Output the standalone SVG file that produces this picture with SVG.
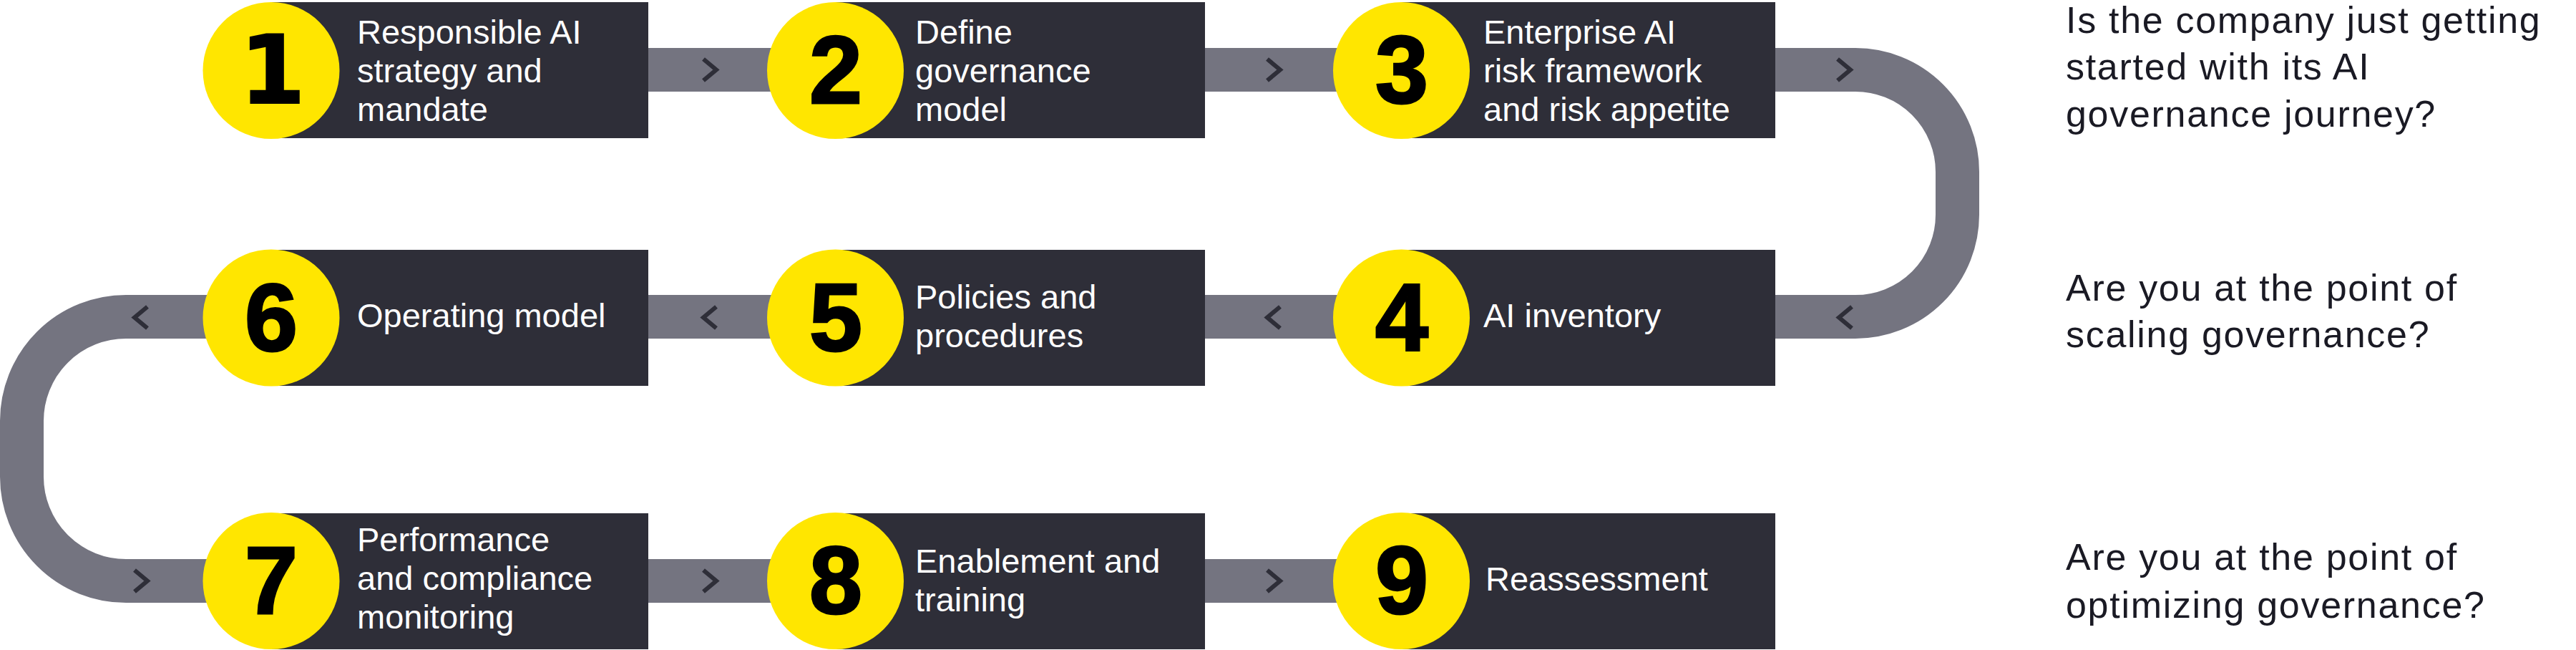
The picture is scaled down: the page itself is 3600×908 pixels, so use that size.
<svg xmlns="http://www.w3.org/2000/svg" width="3600" height="908" viewBox="0 0 3600 908">
<style>
.box{fill:#2e2e38}
.dot{fill:#ffe600}
.num{font-family:"Liberation Sans",Arial,sans-serif;font-weight:700;font-size:133px;fill:#000;stroke:#000;stroke-width:3;text-anchor:middle}
.one{font-family:"DejaVu Sans","Liberation Sans",sans-serif;font-size:132px;stroke-width:2}
.lbl{font-family:"Liberation Sans",Arial,sans-serif;font-size:47px;fill:#ffffff}
.q{font-family:"Liberation Sans",Arial,sans-serif;font-size:52px;fill:#1a1a24;letter-spacing:1.7px}
.band{fill:none;stroke:#747480;stroke-width:61}
.chev{fill:none;stroke:#2e2e38;stroke-width:6;stroke-linejoin:miter}
</style>
<rect width="3600" height="908" fill="#ffffff"/>
<g id="connectors">
<path class="band" d="M 378 97.5 H 2593 A 142.5 142.5 0 0 1 2735.5 240 V 300 A 142.5 142.5 0 0 1 2593 442.5 H 176 A 145.5 145.5 0 0 0 30.5 588 V 666 A 145.5 145.5 0 0 0 176 811.5 H 1958"/>
<polyline class="chev" points="983,82.5 1001,97.5 983,112.5"/>
<polyline class="chev" points="1771,82.5 1789,97.5 1771,112.5"/>
<polyline class="chev" points="2568,82.5 2586,97.5 2568,112.5"/>
<polyline class="chev" points="2588,428.5 2570,443.5 2588,458.5"/>
<polyline class="chev" points="1789,428.5 1771,443.5 1789,458.5"/>
<polyline class="chev" points="1001,428.5 983,443.5 1001,458.5"/>
<polyline class="chev" points="206,428.5 188,443.5 206,458.5"/>
<polyline class="chev" points="188,796.5 206,811.5 188,826.5"/>
<polyline class="chev" points="983,796.5 1001,811.5 983,826.5"/>
<polyline class="chev" points="1771,796.5 1789,811.5 1771,826.5"/>
</g>
<g id="node1">
<rect class="box" x="378" y="3" width="528" height="190"/>
<circle class="dot" cx="379" cy="98.5" r="95.5"/>
<text class="num one" x="381" y="144">1</text>
<text class="lbl" x="499" y="61">Responsible AI</text>
<text class="lbl" x="499" y="115">strategy and</text>
<text class="lbl" x="499" y="169">mandate</text>
</g>
<g id="node2">
<rect class="box" x="1168" y="3" width="516" height="190"/>
<circle class="dot" cx="1167.5" cy="98.5" r="95.5"/>
<text class="num" x="1168" y="144">2</text>
<text class="lbl" x="1279" y="61">Define</text>
<text class="lbl" x="1279" y="115">governance</text>
<text class="lbl" x="1279" y="169">model</text>
</g>
<g id="node3">
<rect class="box" x="1958" y="3" width="523" height="190"/>
<circle class="dot" cx="1958.5" cy="98.5" r="95.5"/>
<text class="num" x="1959" y="144">3</text>
<text class="lbl" x="2073" y="61">Enterprise AI</text>
<text class="lbl" x="2073" y="115">risk framework</text>
<text class="lbl" x="2073" y="169">and risk appetite</text>
</g>
<g id="node4">
<rect class="box" x="1958" y="349" width="523" height="190"/>
<circle class="dot" cx="1958.5" cy="444" r="95.5"/>
<text class="num" x="1959" y="490">4</text>
<text class="lbl" x="2073" y="457">AI inventory</text>
</g>
<g id="node5">
<rect class="box" x="1168" y="349" width="516" height="190"/>
<circle class="dot" cx="1167.5" cy="444" r="95.5"/>
<text class="num" x="1168" y="490">5</text>
<text class="lbl" x="1279" y="431">Policies and</text>
<text class="lbl" x="1279" y="485">procedures</text>
</g>
<g id="node6">
<rect class="box" x="378" y="349" width="528" height="190"/>
<circle class="dot" cx="379" cy="444" r="95.5"/>
<text class="num" x="379" y="490">6</text>
<text class="lbl" x="499" y="457">Operating model</text>
</g>
<g id="node7">
<rect class="box" x="378" y="717" width="528" height="190"/>
<circle class="dot" cx="379" cy="811.5" r="95.5"/>
<text class="num" x="379" y="857">7</text>
<text class="lbl" x="499" y="770">Performance</text>
<text class="lbl" x="499" y="824">and compliance</text>
<text class="lbl" x="499" y="878">monitoring</text>
</g>
<g id="node8">
<rect class="box" x="1168" y="717" width="516" height="190"/>
<circle class="dot" cx="1167.5" cy="811.5" r="95.5"/>
<text class="num" x="1168" y="857">8</text>
<text class="lbl" x="1279" y="800">Enablement and</text>
<text class="lbl" x="1279" y="854">training</text>
</g>
<g id="node9">
<rect class="box" x="1958" y="717" width="523" height="190"/>
<circle class="dot" cx="1958.5" cy="811.5" r="95.5"/>
<text class="num" x="1959" y="857">9</text>
<text class="lbl" x="2076" y="825">Reassessment</text>
</g>
<g id="questions">
<text class="q" x="2887" y="46">Is the company just getting</text>
<text class="q" x="2887" y="111">started with its AI</text>
<text class="q" x="2887" y="177">governance journey?</text>
<text class="q" x="2887" y="420">Are you at the point of</text>
<text class="q" x="2887" y="485">scaling governance?</text>
<text class="q" x="2887" y="796">Are you at the point of</text>
<text class="q" x="2887" y="863">optimizing governance?</text>
</g>
</svg>
